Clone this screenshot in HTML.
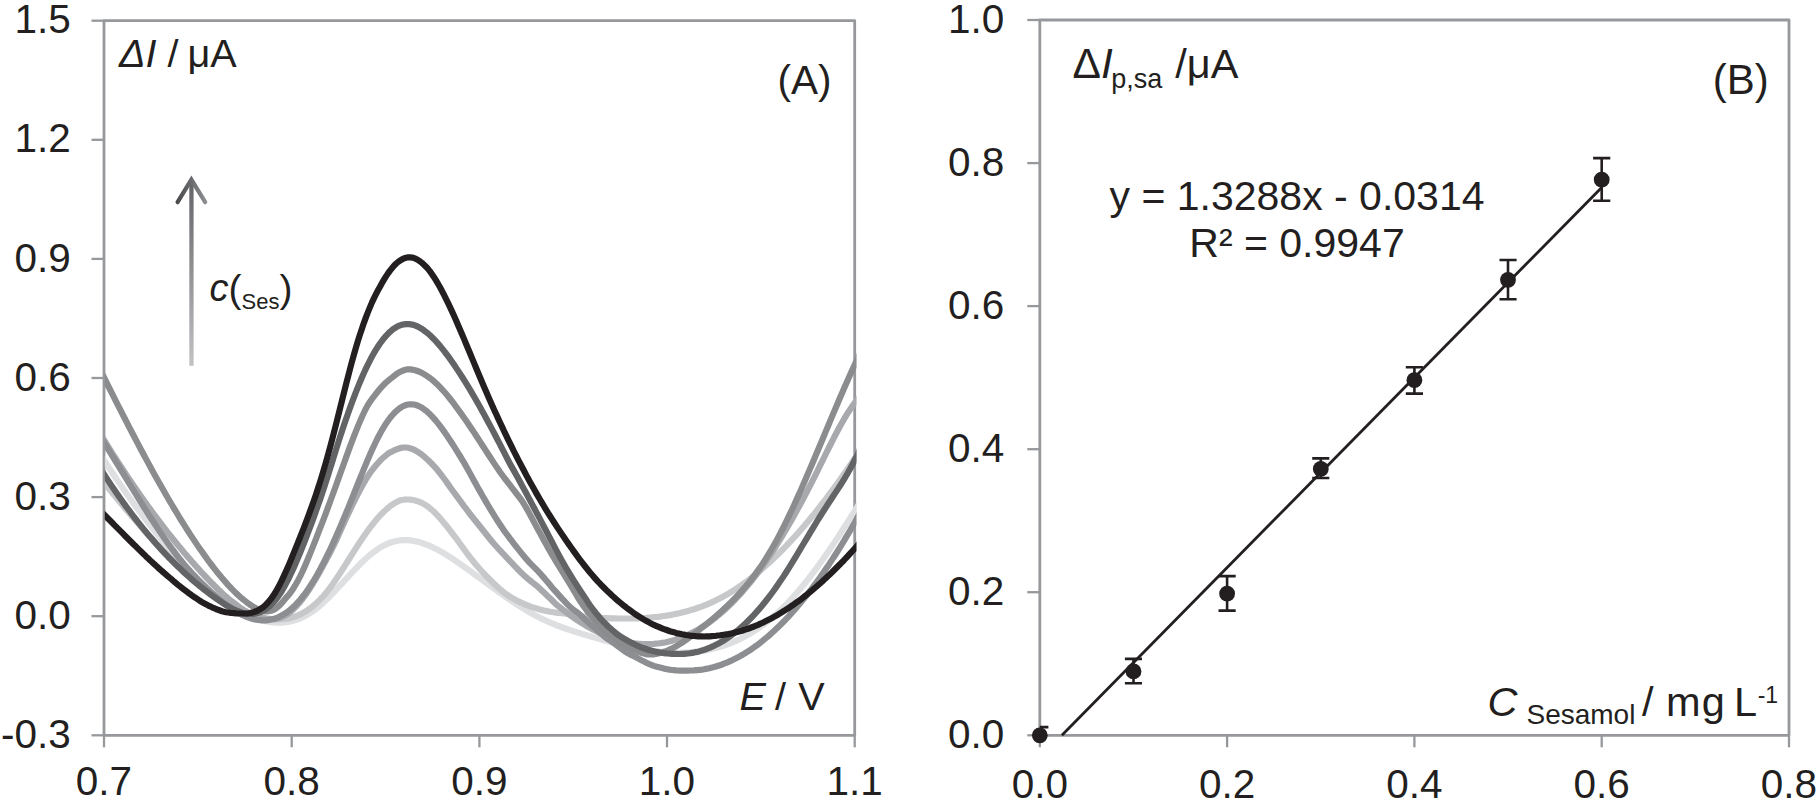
<!DOCTYPE html>
<html lang="en"><head><meta charset="utf-8"><title>Figure</title>
<style>html,body{margin:0;padding:0;background:#fff;}body{width:1820px;height:803px;overflow:hidden;}svg{display:block;}text{font-family:"Liberation Sans",Arial,sans-serif;fill:#231f20;}.i{font-style:italic;}</style></head><body>
<svg width="1820" height="803" viewBox="0 0 1820 803">
<rect width="1820" height="803" fill="#fff"/>
<defs><clipPath id="ca"><rect x="104.8" y="20.7" width="751.7" height="714.6"/></clipPath>
<clipPath id="cb"><rect x="1039.8" y="20.0" width="749.2" height="715.3"/></clipPath>
<linearGradient id="ag" x1="0" y1="0" x2="0" y2="1"><stop offset="0" stop-color="#626366"/><stop offset="1" stop-color="#c0c2c4"/></linearGradient><linearGradient id="ah" gradientUnits="userSpaceOnUse" x1="176" y1="0" x2="207" y2="0"><stop offset="0" stop-color="#48484a"/><stop offset="1" stop-color="#8e9093"/></linearGradient></defs>
<g id="chartA">
<g stroke="#96989b" stroke-width="2.8" fill="none">
<rect x="104.0" y="20.7" width="750.7" height="714.6" stroke-linejoin="round"/>
<line x1="91.5" y1="20.7" x2="104.0" y2="20.7" stroke-width="2.3"/>
<line x1="91.5" y1="139.8" x2="104.0" y2="139.8" stroke-width="2.3"/>
<line x1="91.5" y1="258.9" x2="104.0" y2="258.9" stroke-width="2.3"/>
<line x1="91.5" y1="378.0" x2="104.0" y2="378.0" stroke-width="2.3"/>
<line x1="91.5" y1="497.1" x2="104.0" y2="497.1" stroke-width="2.3"/>
<line x1="91.5" y1="616.2" x2="104.0" y2="616.2" stroke-width="2.3"/>
<line x1="91.5" y1="735.3" x2="104.0" y2="735.3" stroke-width="2.3"/>
<line x1="104.0" y1="735.3" x2="104.0" y2="747.3" stroke-width="2.3"/>
<line x1="291.7" y1="735.3" x2="291.7" y2="747.3" stroke-width="2.3"/>
<line x1="479.4" y1="735.3" x2="479.4" y2="747.3" stroke-width="2.3"/>
<line x1="667.0" y1="735.3" x2="667.0" y2="747.3" stroke-width="2.3"/>
<line x1="854.7" y1="735.3" x2="854.7" y2="747.3" stroke-width="2.3"/>
</g>
<g clip-path="url(#ca)" fill="none" stroke-linejoin="round" stroke-linecap="butt">
<path d="M98.0,451.0 L100.0,454.1 L102.0,457.2 L104.0,460.3 L106.0,463.3 L108.0,466.4 L110.0,469.4 L112.0,472.3 L114.0,475.3 L116.0,478.3 L118.0,481.2 L120.0,484.1 L122.0,487.0 L124.0,489.8 L126.0,492.7 L128.0,495.5 L130.0,498.3 L132.0,501.1 L134.0,503.8 L136.0,506.6 L138.0,509.3 L140.0,512.0 L142.0,514.7 L144.0,517.3 L146.0,519.9 L148.0,522.5 L150.0,525.1 L152.0,527.6 L154.0,530.1 L156.0,532.6 L158.0,535.1 L160.0,537.6 L162.0,540.0 L164.0,542.4 L166.0,544.7 L168.0,547.1 L170.0,549.4 L172.0,551.7 L174.0,553.9 L176.0,556.1 L178.0,558.3 L180.0,560.5 L182.0,562.7 L184.0,564.8 L186.0,566.9 L188.0,568.9 L190.0,570.9 L192.0,572.9 L194.0,574.9 L196.0,576.8 L198.0,578.7 L200.0,580.6 L202.0,582.4 L204.0,584.2 L206.0,586.0 L208.0,587.7 L210.0,589.4 L212.0,591.1 L214.0,592.8 L216.0,594.4 L218.0,595.9 L220.0,597.5 L222.0,599.0 L224.0,600.5 L226.0,601.9 L228.0,603.3 L230.0,604.7 L232.0,606.0 L234.0,607.3 L236.0,608.5 L238.0,609.7 L240.0,610.9 L242.0,612.0 L244.0,613.0 L246.0,614.0 L248.0,615.0 L250.0,615.9 L252.0,616.8 L254.0,617.6 L256.0,618.3 L258.0,619.0 L260.0,619.7 L262.0,620.3 L264.0,620.8 L266.0,621.3 L268.0,621.7 L270.0,622.0 L272.0,622.3 L274.0,622.5 L276.0,622.6 L278.0,622.7 L280.0,622.6 L282.0,622.6 L284.0,622.4 L286.0,622.2 L288.0,621.9 L290.0,621.5 L292.0,621.1 L294.0,620.5 L296.0,619.9 L298.0,619.2 L300.0,618.4 L302.0,617.5 L304.0,616.6 L306.0,615.5 L308.0,614.4 L310.0,613.2 L312.0,611.8 L314.0,610.4 L316.0,608.9 L318.0,607.3 L320.0,605.6 L322.0,603.9 L324.0,602.0 L326.0,600.1 L328.0,598.2 L330.0,596.2 L332.0,594.1 L334.0,592.0 L336.0,589.9 L338.0,587.7 L340.0,585.5 L342.0,583.4 L344.0,581.2 L346.0,579.0 L348.0,576.8 L350.0,574.6 L352.0,572.5 L354.0,570.3 L356.0,568.2 L358.0,566.2 L360.0,564.2 L362.0,562.2 L364.0,560.3 L366.0,558.5 L368.0,556.7 L370.0,555.0 L372.0,553.4 L374.0,551.8 L376.0,550.4 L378.0,549.0 L380.0,547.7 L382.0,546.5 L384.0,545.4 L386.0,544.4 L388.0,543.5 L390.0,542.8 L392.0,542.1 L394.0,541.5 L396.0,541.1 L398.0,540.7 L400.0,540.4 L402.0,540.2 L404.0,540.2 L406.0,540.2 L408.0,540.2 L410.0,540.4 L412.0,540.6 L414.0,541.0 L416.0,541.4 L418.0,541.8 L420.0,542.4 L422.0,543.0 L424.0,543.7 L426.0,544.4 L428.0,545.2 L430.0,546.0 L432.0,546.9 L434.0,547.9 L436.0,548.9 L438.0,550.0 L440.0,551.1 L442.0,552.2 L444.0,553.4 L446.0,554.6 L448.0,555.8 L450.0,557.1 L452.0,558.4 L454.0,559.7 L456.0,561.1 L458.0,562.5 L460.0,563.8 L462.0,565.3 L464.0,566.7 L466.0,568.1 L468.0,569.5 L470.0,571.0 L472.0,572.4 L474.0,573.9 L476.0,575.4 L478.0,576.8 L480.0,578.3 L482.0,579.8 L484.0,581.2 L486.0,582.7 L488.0,584.2 L490.0,585.6 L492.0,587.1 L494.0,588.5 L496.0,590.0 L498.0,591.4 L500.0,592.9 L502.0,594.3 L504.0,595.7 L506.0,597.1 L508.0,598.5 L510.0,599.8 L512.0,601.2 L514.0,602.5 L516.0,603.8 L518.0,605.1 L520.0,606.4 L522.0,607.7 L524.0,608.9 L526.0,610.1 L528.0,611.3 L530.0,612.5 L532.0,613.6 L534.0,614.7 L536.0,615.8 L538.0,616.8 L540.0,617.9 L542.0,618.9 L544.0,619.8 L546.0,620.7 L548.0,621.6 L550.0,622.5 L552.0,623.4 L554.0,624.2 L556.0,625.0 L558.0,625.8 L560.0,626.5 L562.0,627.3 L564.0,628.0 L566.0,628.7 L568.0,629.4 L570.0,630.1 L572.0,630.7 L574.0,631.4 L576.0,632.0 L578.0,632.6 L580.0,633.2 L582.0,633.9 L584.0,634.5 L586.0,635.1 L588.0,635.6 L590.0,636.2 L592.0,636.8 L594.0,637.4 L596.0,638.0 L598.0,638.5 L600.0,639.1 L602.0,639.7 L604.0,640.2 L606.0,640.8 L608.0,641.3 L610.0,641.9 L612.0,642.4 L614.0,642.9 L616.0,643.5 L618.0,644.0 L620.0,644.5 L622.0,644.9 L624.0,645.4 L626.0,645.9 L628.0,646.3 L630.0,646.8 L632.0,647.2 L634.0,647.6 L636.0,648.0 L638.0,648.4 L640.0,648.8 L642.0,649.2 L644.0,649.5 L646.0,649.9 L648.0,650.2 L650.0,650.5 L652.0,650.8 L654.0,651.0 L656.0,651.3 L658.0,651.5 L660.0,651.7 L662.0,651.9 L664.0,652.1 L666.0,652.2 L668.0,652.4 L670.0,652.5 L672.0,652.6 L674.0,652.6 L676.0,652.7 L678.0,652.7 L680.0,652.7 L682.0,652.6 L684.0,652.6 L686.0,652.5 L688.0,652.4 L690.0,652.3 L692.0,652.1 L694.0,651.9 L696.0,651.7 L698.0,651.5 L700.0,651.2 L702.0,650.9 L704.0,650.6 L706.0,650.2 L708.0,649.8 L710.0,649.4 L712.0,648.9 L714.0,648.5 L716.0,647.9 L718.0,647.4 L720.0,646.8 L722.0,646.2 L724.0,645.5 L726.0,644.8 L728.0,644.1 L730.0,643.3 L732.0,642.5 L734.0,641.7 L736.0,640.8 L738.0,639.9 L740.0,638.9 L742.0,637.9 L744.0,636.9 L746.0,635.8 L748.0,634.7 L750.0,633.5 L752.0,632.3 L754.0,631.1 L756.0,629.8 L758.0,628.4 L760.0,627.1 L762.0,625.6 L764.0,624.2 L766.0,622.6 L768.0,621.1 L770.0,619.4 L772.0,617.8 L774.0,616.1 L776.0,614.3 L778.0,612.5 L780.0,610.6 L782.0,608.7 L784.0,606.7 L786.0,604.7 L788.0,602.6 L790.0,600.5 L792.0,598.4 L794.0,596.1 L796.0,593.9 L798.0,591.6 L800.0,589.2 L802.0,586.8 L804.0,584.4 L806.0,581.9 L808.0,579.3 L810.0,576.8 L812.0,574.1 L814.0,571.5 L816.0,568.8 L818.0,566.1 L820.0,563.3 L822.0,560.5 L824.0,557.7 L826.0,554.8 L828.0,552.0 L830.0,549.0 L832.0,546.1 L834.0,543.1 L836.0,540.1 L838.0,537.1 L840.0,534.0 L842.0,530.9 L844.0,527.8 L846.0,524.7 L848.0,521.6 L850.0,518.4 L852.0,515.2 L854.0,512.1 L856.0,508.9 L858.0,505.6 L860.0,502.4" stroke="#dedfe0" stroke-width="6.2"/>
<path d="M98.0,475.0 L100.0,477.5 L102.0,480.1 L104.0,482.6 L106.0,485.1 L108.0,487.5 L110.0,490.0 L112.0,492.5 L114.0,494.9 L116.0,497.4 L118.0,499.8 L120.0,502.2 L122.0,504.6 L124.0,507.0 L126.0,509.4 L128.0,511.7 L130.0,514.1 L132.0,516.4 L134.0,518.7 L136.0,521.0 L138.0,523.3 L140.0,525.6 L142.0,527.8 L144.0,530.1 L146.0,532.3 L148.0,534.5 L150.0,536.7 L152.0,538.8 L154.0,541.0 L156.0,543.1 L158.0,545.2 L160.0,547.3 L162.0,549.3 L164.0,551.4 L166.0,553.4 L168.0,555.4 L170.0,557.4 L172.0,559.3 L174.0,561.2 L176.0,563.1 L178.0,565.0 L180.0,566.9 L182.0,568.7 L184.0,570.5 L186.0,572.3 L188.0,574.1 L190.0,575.8 L192.0,577.5 L194.0,579.2 L196.0,580.8 L198.0,582.4 L200.0,584.0 L202.0,585.6 L204.0,587.1 L206.0,588.6 L208.0,590.1 L210.0,591.6 L212.0,593.0 L214.0,594.4 L216.0,595.7 L218.0,597.1 L220.0,598.4 L222.0,599.6 L224.0,600.9 L226.0,602.1 L228.0,603.2 L230.0,604.3 L232.0,605.4 L234.0,606.5 L236.0,607.5 L238.0,608.5 L240.0,609.5 L242.0,610.4 L244.0,611.3 L246.0,612.1 L248.0,612.9 L250.0,613.7 L252.0,614.4 L254.0,615.1 L256.0,615.8 L258.0,616.4 L260.0,616.9 L262.0,617.4 L264.0,617.9 L266.0,618.3 L268.0,618.6 L270.0,618.9 L272.0,619.2 L274.0,619.3 L276.0,619.4 L278.0,619.4 L280.0,619.4 L282.0,619.2 L284.0,619.0 L286.0,618.8 L288.0,618.4 L290.0,618.0 L292.0,617.4 L294.0,616.8 L296.0,616.1 L298.0,615.3 L300.0,614.4 L302.0,613.4 L304.0,612.3 L306.0,611.1 L308.0,609.8 L310.0,608.4 L312.0,606.9 L314.0,605.2 L316.0,603.5 L318.0,601.6 L320.0,599.6 L322.0,597.5 L324.0,595.3 L326.0,592.9 L328.0,590.4 L330.0,587.8 L332.0,585.1 L334.0,582.2 L336.0,579.3 L338.0,576.3 L340.0,573.3 L342.0,570.2 L344.0,567.0 L346.0,563.8 L348.0,560.7 L350.0,557.5 L352.0,554.3 L354.0,551.2 L356.0,548.1 L358.0,545.0 L360.0,542.0 L362.0,539.0 L364.0,536.1 L366.0,533.2 L368.0,530.4 L370.0,527.7 L372.0,525.1 L374.0,522.6 L376.0,520.1 L378.0,517.8 L380.0,515.6 L382.0,513.5 L384.0,511.5 L386.0,509.7 L388.0,507.9 L390.0,506.3 L392.0,504.9 L394.0,503.5 L396.0,502.4 L398.0,501.3 L400.0,500.4 L402.0,500.0 L404.0,499.7 L406.0,499.5 L408.0,499.5 L410.0,499.6 L412.0,499.9 L414.0,500.2 L416.0,500.7 L418.0,501.4 L420.0,502.1 L422.0,503.0 L424.0,504.1 L426.0,505.3 L428.0,506.7 L430.0,508.3 L432.0,510.0 L434.0,511.8 L436.0,513.8 L438.0,515.9 L440.0,518.2 L442.0,520.5 L444.0,522.9 L446.0,525.3 L448.0,527.8 L450.0,530.4 L452.0,533.0 L454.0,535.6 L456.0,538.2 L458.0,540.9 L460.0,543.7 L462.0,546.5 L464.0,549.2 L466.0,552.0 L468.0,554.7 L470.0,557.3 L472.0,559.8 L474.0,562.3 L476.0,564.7 L478.0,567.0 L480.0,569.3 L482.0,571.5 L484.0,573.6 L486.0,575.8 L488.0,577.8 L490.0,579.8 L492.0,581.8 L494.0,583.7 L496.0,585.6 L498.0,587.4 L500.0,589.2 L502.0,590.9 L504.0,592.5 L506.0,594.0 L508.0,595.4 L510.0,596.7 L512.0,597.9 L514.0,599.1 L516.0,600.1 L518.0,601.2 L520.0,602.1 L522.0,603.0 L524.0,603.9 L526.0,604.8 L528.0,605.6 L530.0,606.4 L532.0,607.1 L534.0,607.7 L536.0,608.3 L538.0,608.9 L540.0,609.5 L542.0,610.0 L544.0,610.5 L546.0,610.9 L548.0,611.3 L550.0,611.7 L552.0,612.0 L554.0,612.3 L556.0,612.6 L558.0,612.8 L560.0,613.0 L562.0,613.2 L564.0,613.4 L566.0,613.6 L568.0,614.0 L570.0,614.4 L572.0,614.8 L574.0,615.1 L576.0,615.4 L578.0,615.7 L580.0,616.0 L582.0,616.3 L584.0,616.5 L586.0,616.7 L588.0,616.9 L590.0,617.1 L592.0,617.3 L594.0,617.5 L596.0,617.6 L598.0,617.7 L600.0,617.9 L602.0,618.0 L604.0,618.1 L606.0,618.2 L608.0,618.2 L610.0,618.3 L612.0,618.4 L614.0,618.4 L616.0,618.4 L618.0,618.5 L620.0,618.5 L622.0,618.5 L624.0,618.5 L626.0,618.5 L628.0,618.5 L630.0,618.5 L632.0,618.5 L634.0,618.4 L636.0,618.4 L638.0,618.3 L640.0,618.2 L642.0,618.1 L644.0,618.0 L646.0,617.9 L648.0,617.7 L650.0,617.6 L652.0,617.4 L654.0,617.2 L656.0,617.0 L658.0,616.8 L660.0,616.6 L662.0,616.3 L664.0,616.0 L666.0,615.7 L668.0,615.4 L670.0,615.1 L672.0,614.7 L674.0,614.3 L676.0,613.9 L678.0,613.5 L680.0,613.0 L682.0,612.5 L684.0,612.0 L686.0,611.5 L688.0,611.0 L690.0,610.4 L692.0,609.8 L694.0,609.2 L696.0,608.5 L698.0,607.8 L700.0,607.1 L702.0,606.4 L704.0,605.6 L706.0,604.8 L708.0,604.0 L710.0,603.1 L712.0,602.2 L714.0,601.3 L716.0,600.3 L718.0,599.3 L720.0,598.3 L722.0,597.2 L724.0,596.1 L726.0,595.0 L728.0,593.8 L730.0,592.6 L732.0,591.4 L734.0,590.2 L736.0,588.9 L738.0,587.5 L740.0,586.2 L742.0,584.8 L744.0,583.3 L746.0,581.9 L748.0,580.4 L750.0,578.9 L752.0,577.3 L754.0,575.7 L756.0,574.1 L758.0,572.4 L760.0,570.8 L762.0,569.0 L764.0,567.3 L766.0,565.5 L768.0,563.7 L770.0,561.9 L772.0,560.0 L774.0,558.1 L776.0,556.2 L778.0,554.2 L780.0,552.2 L782.0,550.2 L784.0,548.2 L786.0,546.1 L788.0,544.0 L790.0,541.9 L792.0,539.7 L794.0,537.5 L796.0,535.3 L798.0,533.1 L800.0,530.8 L802.0,528.5 L804.0,526.2 L806.0,523.8 L808.0,521.4 L810.0,519.0 L812.0,516.6 L814.0,514.1 L816.0,511.6 L818.0,509.1 L820.0,506.6 L822.0,504.0 L824.0,501.4 L826.0,498.8 L828.0,496.1 L830.0,493.5 L832.0,490.8 L834.0,488.0 L836.0,485.3 L838.0,482.5 L840.0,479.7 L842.0,476.9 L844.0,474.1 L846.0,471.2 L848.0,468.3 L850.0,465.4 L852.0,462.4 L854.0,459.5 L856.0,456.5 L858.0,453.5 L860.0,450.5" stroke="#c7c8ca" stroke-width="6.2"/>
<path d="M98.0,430.1 L100.0,433.4 L102.0,436.7 L104.0,439.9 L106.0,443.2 L108.0,446.4 L110.0,449.6 L112.0,452.8 L114.0,455.9 L116.0,459.0 L118.0,462.2 L120.0,465.2 L122.0,468.3 L124.0,471.3 L126.0,474.4 L128.0,477.4 L130.0,480.3 L132.0,483.3 L134.0,486.2 L136.0,489.1 L138.0,492.0 L140.0,494.9 L142.0,497.8 L144.0,500.6 L146.0,503.4 L148.0,506.2 L150.0,508.9 L152.0,511.7 L154.0,514.4 L156.0,517.1 L158.0,519.7 L160.0,522.4 L162.0,525.0 L164.0,527.6 L166.0,530.2 L168.0,532.8 L170.0,535.3 L172.0,537.8 L174.0,540.3 L176.0,542.8 L178.0,545.2 L180.0,547.6 L182.0,550.0 L184.0,552.4 L186.0,554.8 L188.0,557.1 L190.0,559.4 L192.0,561.7 L194.0,563.9 L196.0,566.2 L198.0,568.4 L200.0,570.6 L202.0,572.8 L204.0,574.9 L206.0,577.0 L208.0,579.1 L210.0,581.2 L212.0,583.3 L214.0,585.3 L216.0,587.2 L218.0,589.2 L220.0,591.1 L222.0,593.0 L224.0,594.8 L226.0,596.5 L228.0,598.3 L230.0,599.9 L232.0,601.6 L234.0,603.1 L236.0,604.6 L238.0,606.1 L240.0,607.5 L242.0,608.8 L244.0,610.1 L246.0,611.3 L248.0,612.4 L250.0,613.4 L252.0,614.4 L254.0,615.3 L256.0,616.1 L258.0,616.8 L260.0,617.4 L262.0,618.0 L264.0,618.4 L266.0,618.8 L268.0,619.0 L270.0,619.2 L272.0,619.2 L274.0,619.1 L276.0,618.8 L278.0,618.4 L280.0,617.8 L282.0,617.0 L284.0,616.1 L286.0,615.0 L288.0,613.7 L290.0,612.2 L292.0,610.5 L294.0,608.7 L296.0,606.6 L298.0,604.4 L300.0,602.1 L302.0,599.6 L304.0,596.9 L306.0,594.1 L308.0,591.2 L310.0,588.2 L312.0,585.0 L314.0,581.7 L316.0,578.4 L318.0,574.9 L320.0,571.4 L322.0,567.8 L324.0,564.1 L326.0,560.3 L328.0,556.5 L330.0,552.7 L332.0,548.8 L334.0,544.9 L336.0,540.6 L338.0,536.2 L340.0,531.7 L342.0,527.3 L344.0,522.9 L346.0,518.5 L348.0,514.2 L350.0,509.9 L352.0,505.7 L354.0,501.6 L356.0,497.6 L358.0,493.7 L360.0,489.9 L362.0,486.2 L364.0,482.6 L366.0,479.2 L368.0,476.0 L370.0,473.1 L372.0,470.3 L374.0,467.8 L376.0,465.3 L378.0,463.0 L380.0,460.8 L382.0,458.8 L384.0,457.0 L386.0,455.3 L388.0,453.7 L390.0,452.4 L392.0,451.4 L394.0,450.4 L396.0,449.6 L398.0,448.8 L400.0,448.1 L402.0,447.7 L404.0,447.5 L406.0,447.5 L408.0,447.8 L410.0,448.2 L412.0,448.9 L414.0,449.7 L416.0,450.8 L418.0,452.0 L420.0,453.3 L422.0,454.8 L424.0,456.4 L426.0,458.2 L428.0,460.0 L430.0,462.0 L432.0,464.0 L434.0,466.1 L436.0,468.3 L438.0,470.7 L440.0,473.2 L442.0,475.8 L444.0,478.5 L446.0,481.3 L448.0,484.1 L450.0,487.0 L452.0,489.8 L454.0,492.5 L456.0,495.2 L458.0,497.9 L460.0,500.6 L462.0,503.3 L464.0,506.1 L466.0,508.7 L468.0,511.4 L470.0,514.0 L472.0,516.5 L474.0,519.0 L476.0,521.5 L478.0,524.0 L480.0,526.5 L482.0,529.0 L484.0,531.5 L486.0,534.0 L488.0,536.5 L490.0,539.0 L492.0,541.4 L494.0,543.8 L496.0,546.0 L498.0,548.3 L500.0,550.4 L502.0,552.6 L504.0,554.7 L506.0,556.8 L508.0,559.0 L510.0,561.1 L512.0,563.2 L514.0,565.3 L516.0,567.4 L518.0,569.5 L520.0,571.5 L522.0,573.4 L524.0,575.4 L526.0,577.2 L528.0,578.9 L530.0,580.5 L532.0,582.1 L534.0,583.7 L536.0,585.2 L538.0,586.9 L540.0,588.8 L542.0,590.7 L544.0,592.6 L546.0,594.5 L548.0,596.4 L550.0,598.3 L552.0,600.3 L554.0,602.3 L556.0,604.1 L558.0,605.8 L560.0,607.4 L562.0,609.0 L564.0,610.6 L566.0,612.1 L568.0,613.6 L570.0,615.1 L572.0,616.5 L574.0,617.9 L576.0,619.3 L578.0,620.6 L580.0,621.9 L582.0,623.2 L584.0,624.4 L586.0,625.6 L588.0,626.8 L590.0,627.9 L592.0,629.0 L594.0,630.1 L596.0,631.1 L598.0,632.1 L600.0,633.0 L602.0,633.9 L604.0,634.8 L606.0,635.6 L608.0,636.4 L610.0,637.2 L612.0,637.9 L614.0,638.6 L616.0,639.3 L618.0,639.9 L620.0,640.4 L622.0,641.0 L624.0,641.5 L626.0,641.9 L628.0,642.3 L630.0,642.7 L632.0,643.0 L634.0,643.3 L636.0,643.5 L638.0,643.8 L640.0,643.9 L642.0,644.0 L644.0,644.1 L646.0,644.2 L648.0,644.2 L650.0,644.1 L652.0,644.0 L654.0,643.9 L656.0,643.7 L658.0,643.5 L660.0,643.2 L662.0,642.9 L664.0,642.6 L666.0,642.2 L668.0,641.7 L670.0,641.2 L672.0,640.7 L674.0,640.1 L676.0,639.5 L678.0,638.8 L680.0,638.1 L682.0,637.3 L684.0,636.5 L686.0,635.7 L688.0,634.8 L690.0,633.8 L692.0,632.8 L694.0,631.8 L696.0,630.7 L698.0,629.6 L700.0,628.4 L702.0,627.2 L704.0,625.9 L706.0,624.5 L708.0,623.2 L710.0,621.7 L712.0,620.3 L714.0,618.7 L716.0,617.2 L718.0,615.5 L720.0,613.9 L722.0,612.2 L724.0,610.4 L726.0,608.6 L728.0,606.7 L730.0,604.8 L732.0,602.8 L734.0,600.8 L736.0,598.7 L738.0,596.5 L740.0,594.4 L742.0,592.1 L744.0,589.8 L746.0,587.5 L748.0,585.1 L750.0,582.7 L752.0,580.2 L754.0,577.6 L756.0,575.0 L758.0,572.4 L760.0,569.7 L762.0,566.9 L764.0,564.1 L766.0,561.2 L768.0,558.3 L770.0,555.3 L772.0,552.3 L774.0,549.2 L776.0,546.1 L778.0,542.9 L780.0,539.7 L782.0,536.4 L784.0,533.0 L786.0,529.7 L788.0,526.2 L790.0,522.8 L792.0,519.2 L794.0,515.7 L796.0,512.1 L798.0,508.4 L800.0,504.7 L802.0,501.0 L804.0,497.2 L806.0,493.4 L808.0,489.6 L810.0,485.7 L812.0,481.8 L814.0,477.8 L816.0,473.8 L818.0,469.8 L820.0,465.7 L822.0,461.6 L824.0,457.6 L826.0,453.5 L828.0,449.5 L830.0,445.5 L832.0,441.5 L834.0,437.6 L836.0,433.8 L838.0,430.0 L840.0,426.3 L842.0,422.8 L844.0,419.3 L846.0,415.9 L848.0,412.7 L850.0,409.6 L852.0,406.6 L854.0,403.8 L856.0,401.2 L858.0,398.7 L860.0,396.5" stroke="#a7a9ac" stroke-width="6.2"/>
<path d="M98.0,432.9 L100.0,436.1 L102.0,439.2 L104.0,442.4 L106.0,445.6 L108.0,448.8 L110.0,452.0 L112.0,455.3 L114.0,458.5 L116.0,461.8 L118.0,465.0 L120.0,468.3 L122.0,471.6 L124.0,474.8 L126.0,478.1 L128.0,481.4 L130.0,484.7 L132.0,487.9 L134.0,491.2 L136.0,494.4 L138.0,497.7 L140.0,500.9 L142.0,504.1 L144.0,507.3 L146.0,510.4 L148.0,513.6 L150.0,516.7 L152.0,519.8 L154.0,522.8 L156.0,525.9 L158.0,528.9 L160.0,531.9 L162.0,534.8 L164.0,537.7 L166.0,540.5 L168.0,543.4 L170.0,546.1 L172.0,548.9 L174.0,551.5 L176.0,554.2 L178.0,556.7 L180.0,559.3 L182.0,561.7 L184.0,564.2 L186.0,566.5 L188.0,568.8 L190.0,571.1 L192.0,573.3 L194.0,575.5 L196.0,577.6 L198.0,579.7 L200.0,581.7 L202.0,583.7 L204.0,585.6 L206.0,587.5 L208.0,589.4 L210.0,591.2 L212.0,593.0 L214.0,594.7 L216.0,596.4 L218.0,598.1 L220.0,599.7 L222.0,601.3 L224.0,602.9 L226.0,604.4 L228.0,605.9 L230.0,607.3 L232.0,608.7 L234.0,610.1 L236.0,611.4 L238.0,612.6 L240.0,613.7 L242.0,614.8 L244.0,615.7 L246.0,616.6 L248.0,617.4 L250.0,618.1 L252.0,618.7 L254.0,619.3 L256.0,619.7 L258.0,620.0 L260.0,620.2 L262.0,620.4 L264.0,620.4 L266.0,620.3 L268.0,620.1 L270.0,619.7 L272.0,619.3 L274.0,618.8 L276.0,618.1 L278.0,617.3 L280.0,616.4 L282.0,615.3 L284.0,614.2 L286.0,612.9 L288.0,611.4 L290.0,609.9 L292.0,608.2 L294.0,606.3 L296.0,604.4 L298.0,602.2 L300.0,600.0 L302.0,597.5 L304.0,595.0 L306.0,592.3 L308.0,589.4 L310.0,586.4 L312.0,583.3 L314.0,580.1 L316.0,576.7 L318.0,573.2 L320.0,569.6 L322.0,565.8 L324.0,562.0 L326.0,558.0 L328.0,553.9 L330.0,549.8 L332.0,545.5 L334.0,541.1 L336.0,536.6 L338.0,532.1 L340.0,527.5 L342.0,522.8 L344.0,518.0 L346.0,513.2 L348.0,508.3 L350.0,503.4 L352.0,498.5 L354.0,493.5 L356.0,488.5 L358.0,483.5 L360.0,478.5 L362.0,473.6 L364.0,468.7 L366.0,463.9 L368.0,459.1 L370.0,454.5 L372.0,450.0 L374.0,445.7 L376.0,441.5 L378.0,437.5 L380.0,433.7 L382.0,430.1 L384.0,426.7 L386.0,423.6 L388.0,420.7 L390.0,418.0 L392.0,415.5 L394.0,413.3 L396.0,411.3 L398.0,409.6 L400.0,408.0 L402.0,406.8 L404.0,405.8 L406.0,405.0 L408.0,404.5 L410.0,404.3 L412.0,404.3 L414.0,404.5 L416.0,405.0 L418.0,405.7 L420.0,406.7 L422.0,407.8 L424.0,409.2 L426.0,410.7 L428.0,412.4 L430.0,414.3 L432.0,416.4 L434.0,418.6 L436.0,420.9 L438.0,423.4 L440.0,425.9 L442.0,428.6 L444.0,431.4 L446.0,434.3 L448.0,437.2 L450.0,440.2 L452.0,443.3 L454.0,446.4 L456.0,449.6 L458.0,452.8 L460.0,456.0 L462.0,459.3 L464.0,462.6 L466.0,466.1 L468.0,469.7 L470.0,473.4 L472.0,477.0 L474.0,480.7 L476.0,484.3 L478.0,487.9 L480.0,491.4 L482.0,495.0 L484.0,498.4 L486.0,501.9 L488.0,505.3 L490.0,508.6 L492.0,511.9 L494.0,515.1 L496.0,518.3 L498.0,521.5 L500.0,524.5 L502.0,527.5 L504.0,530.4 L506.0,533.2 L508.0,535.9 L510.0,538.6 L512.0,541.2 L514.0,543.8 L516.0,546.4 L518.0,548.9 L520.0,551.4 L522.0,553.9 L524.0,556.3 L526.0,558.7 L528.0,560.9 L530.0,563.1 L532.0,565.1 L534.0,567.1 L536.0,569.1 L538.0,571.2 L540.0,573.3 L542.0,575.6 L544.0,577.9 L546.0,580.2 L548.0,582.6 L550.0,585.0 L552.0,587.4 L554.0,589.7 L556.0,591.9 L558.0,594.1 L560.0,596.4 L562.0,598.6 L564.0,600.7 L566.0,602.8 L568.0,604.9 L570.0,606.9 L572.0,608.6 L574.0,610.2 L576.0,611.6 L578.0,613.1 L580.0,614.7 L582.0,616.5 L584.0,618.4 L586.0,620.2 L588.0,622.0 L590.0,623.9 L592.0,625.7 L594.0,627.5 L596.0,629.2 L598.0,631.0 L600.0,632.7 L602.0,634.5 L604.0,636.2 L606.0,637.7 L608.0,639.2 L610.0,640.5 L612.0,641.8 L614.0,643.2 L616.0,644.8 L618.0,646.3 L620.0,647.8 L622.0,649.2 L624.0,650.7 L626.0,652.1 L628.0,653.3 L630.0,654.4 L632.0,655.3 L634.0,656.3 L636.0,657.3 L638.0,658.4 L640.0,659.5 L642.0,660.6 L644.0,661.6 L646.0,662.6 L648.0,663.5 L650.0,664.4 L652.0,665.2 L654.0,665.9 L656.0,666.5 L658.0,667.1 L660.0,667.6 L662.0,668.1 L664.0,668.6 L666.0,669.0 L668.0,669.4 L670.0,669.7 L672.0,670.0 L674.0,670.2 L676.0,670.4 L678.0,670.5 L680.0,670.6 L682.0,670.7 L684.0,670.7 L686.0,670.7 L688.0,670.6 L690.0,670.5 L692.0,670.5 L694.0,670.4 L696.0,670.2 L698.0,670.1 L700.0,669.8 L702.0,669.6 L704.0,669.3 L706.0,668.9 L708.0,668.5 L710.0,668.1 L712.0,667.6 L714.0,667.0 L716.0,666.5 L718.0,665.8 L720.0,665.2 L722.0,664.5 L724.0,663.7 L726.0,662.9 L728.0,662.1 L730.0,661.2 L732.0,660.3 L734.0,659.3 L736.0,658.3 L738.0,657.3 L740.0,656.2 L742.0,655.0 L744.0,653.9 L746.0,652.6 L748.0,651.4 L750.0,650.1 L752.0,648.7 L754.0,647.3 L756.0,645.9 L758.0,644.4 L760.0,642.9 L762.0,641.3 L764.0,639.7 L766.0,638.0 L768.0,636.3 L770.0,634.6 L772.0,632.8 L774.0,631.0 L776.0,629.1 L778.0,627.2 L780.0,625.3 L782.0,623.3 L784.0,621.3 L786.0,619.2 L788.0,617.1 L790.0,614.9 L792.0,612.7 L794.0,610.5 L796.0,608.2 L798.0,605.8 L800.0,603.5 L802.0,601.1 L804.0,598.6 L806.0,596.1 L808.0,593.6 L810.0,591.0 L812.0,588.4 L814.0,585.7 L816.0,583.0 L818.0,580.2 L820.0,577.5 L822.0,574.6 L824.0,571.8 L826.0,568.8 L828.0,565.9 L830.0,562.9 L832.0,559.9 L834.0,556.8 L836.0,553.7 L838.0,550.5 L840.0,547.3 L842.0,544.1 L844.0,540.8 L846.0,537.4 L848.0,534.1 L850.0,530.7 L852.0,527.2 L854.0,523.7 L856.0,520.2 L858.0,516.6 L860.0,513.0" stroke="#8c8e91" stroke-width="6.2"/>
<path d="M98.0,365.5 L100.0,369.5 L102.0,373.5 L104.0,377.5 L106.0,381.5 L108.0,385.5 L110.0,389.5 L112.0,393.4 L114.0,397.4 L116.0,401.3 L118.0,405.3 L120.0,409.2 L122.0,413.1 L124.0,417.0 L126.0,420.9 L128.0,424.8 L130.0,428.7 L132.0,432.5 L134.0,436.3 L136.0,440.1 L138.0,443.9 L140.0,447.7 L142.0,451.5 L144.0,455.2 L146.0,458.9 L148.0,462.6 L150.0,466.3 L152.0,469.9 L154.0,473.6 L156.0,477.2 L158.0,480.7 L160.0,484.3 L162.0,487.8 L164.0,491.3 L166.0,494.8 L168.0,498.2 L170.0,501.7 L172.0,505.0 L174.0,508.4 L176.0,511.7 L178.0,515.0 L180.0,518.3 L182.0,521.5 L184.0,524.7 L186.0,527.9 L188.0,531.0 L190.0,534.1 L192.0,537.1 L194.0,540.1 L196.0,543.1 L198.0,546.1 L200.0,549.0 L202.0,551.8 L204.0,554.6 L206.0,557.4 L208.0,560.2 L210.0,562.9 L212.0,565.5 L214.0,568.1 L216.0,570.7 L218.0,573.2 L220.0,575.6 L222.0,578.0 L224.0,580.3 L226.0,582.6 L228.0,584.8 L230.0,587.0 L232.0,589.1 L234.0,591.1 L236.0,593.1 L238.0,594.9 L240.0,596.8 L242.0,598.5 L244.0,600.1 L246.0,601.7 L248.0,603.2 L250.0,604.6 L252.0,606.0 L254.0,607.2 L256.0,608.3 L258.0,609.3 L260.0,610.1 L262.0,610.7 L264.0,611.2 L266.0,611.4 L268.0,611.3 L270.0,611.0 L272.0,610.5 L274.0,609.6 L276.0,608.3 L278.0,606.8 L280.0,604.9 L282.0,602.7 L284.0,600.2 L286.0,597.9 L288.0,595.7 L290.0,593.3 L292.0,590.5 L294.0,587.3 L296.0,584.0 L298.0,580.4 L300.0,576.6 L302.0,572.5 L304.0,568.1 L306.0,563.5 L308.0,558.7 L310.0,553.8 L312.0,548.9 L314.0,543.9 L316.0,538.8 L318.0,533.6 L320.0,528.4 L322.0,523.3 L324.0,518.1 L326.0,512.8 L328.0,507.4 L330.0,502.0 L332.0,496.5 L334.0,491.0 L336.0,485.5 L338.0,479.9 L340.0,474.3 L342.0,468.7 L344.0,463.2 L346.0,457.6 L348.0,452.1 L350.0,446.7 L352.0,441.4 L354.0,436.2 L356.0,431.1 L358.0,426.2 L360.0,421.4 L362.0,416.8 L364.0,412.5 L366.0,408.4 L368.0,404.8 L370.0,401.7 L372.0,398.9 L374.0,396.3 L376.0,393.8 L378.0,391.3 L380.0,388.8 L382.0,386.6 L384.0,384.5 L386.0,382.5 L388.0,380.8 L390.0,379.2 L392.0,377.6 L394.0,376.0 L396.0,374.4 L398.0,373.0 L400.0,371.9 L402.0,371.0 L404.0,370.2 L406.0,369.6 L408.0,369.3 L410.0,369.3 L412.0,369.6 L414.0,370.0 L416.0,370.5 L418.0,371.2 L420.0,372.0 L422.0,373.0 L424.0,374.1 L426.0,375.3 L428.0,376.7 L430.0,378.1 L432.0,379.7 L434.0,381.4 L436.0,383.2 L438.0,385.1 L440.0,387.2 L442.0,389.3 L444.0,391.5 L446.0,393.8 L448.0,396.2 L450.0,398.7 L452.0,401.2 L454.0,403.9 L456.0,406.6 L458.0,409.3 L460.0,412.1 L462.0,414.9 L464.0,417.7 L466.0,420.6 L468.0,423.5 L470.0,426.5 L472.0,429.4 L474.0,432.4 L476.0,435.5 L478.0,438.5 L480.0,441.6 L482.0,444.7 L484.0,447.8 L486.0,450.9 L488.0,454.0 L490.0,457.0 L492.0,460.1 L494.0,463.1 L496.0,466.1 L498.0,469.0 L500.0,472.0 L502.0,474.8 L504.0,477.5 L506.0,480.0 L508.0,482.6 L510.0,485.2 L512.0,487.8 L514.0,490.4 L516.0,493.0 L518.0,495.5 L520.0,498.1 L522.0,500.9 L524.0,504.0 L526.0,507.4 L528.0,510.9 L530.0,514.6 L532.0,518.3 L534.0,522.1 L536.0,525.8 L538.0,529.4 L540.0,533.1 L542.0,536.8 L544.0,540.5 L546.0,544.1 L548.0,547.7 L550.0,551.2 L552.0,554.6 L554.0,558.0 L556.0,561.3 L558.0,564.6 L560.0,567.9 L562.0,571.1 L564.0,574.3 L566.0,577.6 L568.0,580.9 L570.0,584.1 L572.0,587.5 L574.0,590.9 L576.0,594.3 L578.0,597.7 L580.0,600.9 L582.0,603.8 L584.0,606.7 L586.0,609.4 L588.0,612.0 L590.0,614.5 L592.0,616.9 L594.0,619.2 L596.0,621.4 L598.0,623.6 L600.0,625.6 L602.0,627.6 L604.0,629.4 L606.0,631.2 L608.0,632.9 L610.0,634.5 L612.0,636.1 L614.0,637.6 L616.0,639.1 L618.0,640.5 L620.0,641.8 L622.0,643.1 L624.0,644.4 L626.0,645.6 L628.0,646.8 L630.0,647.9 L632.0,648.9 L634.0,649.9 L636.0,650.7 L638.0,651.5 L640.0,652.3 L642.0,653.0 L644.0,653.6 L646.0,654.1 L648.0,654.4 L650.0,654.5 L652.0,654.5 L654.0,654.3 L656.0,653.9 L658.0,653.5 L660.0,653.0 L662.0,652.4 L664.0,651.8 L666.0,651.1 L668.0,650.3 L670.0,649.4 L672.0,648.5 L674.0,647.4 L676.0,646.3 L678.0,645.1 L680.0,643.9 L682.0,642.6 L684.0,641.3 L686.0,639.9 L688.0,638.5 L690.0,637.0 L692.0,635.5 L694.0,634.0 L696.0,632.4 L698.0,630.8 L700.0,629.1 L702.0,627.6 L704.0,626.1 L706.0,624.5 L708.0,622.9 L710.0,621.2 L712.0,619.5 L714.0,617.8 L716.0,616.1 L718.0,614.4 L720.0,612.6 L722.0,610.8 L724.0,608.9 L726.0,607.1 L728.0,605.2 L730.0,603.2 L732.0,601.3 L734.0,599.2 L736.0,597.2 L738.0,595.0 L740.0,592.9 L742.0,590.6 L744.0,588.3 L746.0,586.0 L748.0,583.6 L750.0,581.1 L752.0,578.5 L754.0,575.9 L756.0,573.2 L758.0,570.4 L760.0,567.6 L762.0,564.6 L764.0,561.6 L766.0,558.5 L768.0,555.2 L770.0,551.9 L772.0,548.5 L774.0,545.0 L776.0,541.4 L778.0,537.7 L780.0,533.9 L782.0,530.0 L784.0,526.1 L786.0,522.0 L788.0,517.9 L790.0,513.7 L792.0,509.5 L794.0,505.2 L796.0,500.8 L798.0,496.4 L800.0,491.9 L802.0,487.4 L804.0,482.8 L806.0,478.2 L808.0,473.6 L810.0,468.9 L812.0,464.2 L814.0,459.5 L816.0,454.8 L818.0,450.0 L820.0,445.3 L822.0,440.5 L824.0,435.7 L826.0,430.9 L828.0,426.2 L830.0,421.4 L832.0,416.6 L834.0,411.9 L836.0,407.2 L838.0,402.5 L840.0,397.8 L842.0,393.2 L844.0,388.6 L846.0,384.0 L848.0,379.5 L850.0,375.0 L852.0,370.5 L854.0,366.2 L856.0,361.8 L858.0,357.6 L860.0,353.4" stroke="#8a8c8e" stroke-width="6.2"/>
<path d="M98.0,464.9 L100.0,468.1 L102.0,471.2 L104.0,474.3 L106.0,477.4 L108.0,480.4 L110.0,483.4 L112.0,486.4 L114.0,489.3 L116.0,492.3 L118.0,495.1 L120.0,498.0 L122.0,500.8 L124.0,503.6 L126.0,506.3 L128.0,509.0 L130.0,511.7 L132.0,514.3 L134.0,517.0 L136.0,519.5 L138.0,522.1 L140.0,524.6 L142.0,527.1 L144.0,529.6 L146.0,532.0 L148.0,534.4 L150.0,536.7 L152.0,539.1 L154.0,541.4 L156.0,543.7 L158.0,545.9 L160.0,548.1 L162.0,550.3 L164.0,552.5 L166.0,554.6 L168.0,556.7 L170.0,558.7 L172.0,560.8 L174.0,562.8 L176.0,564.8 L178.0,566.7 L180.0,568.6 L182.0,570.5 L184.0,572.4 L186.0,574.2 L188.0,576.0 L190.0,577.8 L192.0,579.6 L194.0,581.3 L196.0,583.0 L198.0,584.6 L200.0,586.3 L202.0,587.9 L204.0,589.5 L206.0,591.0 L208.0,592.5 L210.0,594.1 L212.0,595.5 L214.0,597.0 L216.0,598.4 L218.0,599.8 L220.0,601.2 L222.0,602.5 L224.0,603.8 L226.0,605.1 L228.0,606.3 L230.0,607.4 L232.0,608.5 L234.0,609.5 L236.0,610.5 L238.0,611.3 L240.0,612.0 L242.0,612.7 L244.0,613.2 L246.0,613.6 L248.0,613.9 L250.0,614.0 L252.0,614.0 L254.0,613.8 L256.0,613.5 L258.0,612.9 L260.0,612.3 L262.0,611.4 L264.0,610.3 L266.0,609.1 L268.0,607.6 L270.0,605.9 L272.0,603.9 L274.0,601.8 L276.0,599.4 L278.0,596.7 L280.0,593.8 L282.0,590.7 L284.0,587.3 L286.0,583.6 L288.0,579.8 L290.0,575.7 L292.0,571.5 L294.0,567.1 L296.0,562.6 L298.0,557.9 L300.0,553.0 L302.0,548.1 L304.0,543.0 L306.0,537.9 L308.0,532.7 L310.0,527.4 L312.0,522.1 L314.0,516.6 L316.0,511.0 L318.0,505.3 L320.0,499.6 L322.0,493.7 L324.0,487.7 L326.0,481.5 L328.0,475.3 L330.0,468.9 L332.0,462.5 L334.0,456.1 L336.0,449.7 L338.0,443.3 L340.0,437.1 L342.0,431.0 L344.0,425.0 L346.0,419.2 L348.0,413.5 L350.0,407.9 L352.0,402.4 L354.0,397.1 L356.0,391.9 L358.0,386.9 L360.0,382.0 L362.0,377.3 L364.0,372.7 L366.0,368.4 L368.0,364.3 L370.0,360.3 L372.0,356.5 L374.0,353.0 L376.0,349.6 L378.0,346.5 L380.0,343.5 L382.0,340.8 L384.0,338.2 L386.0,335.9 L388.0,333.8 L390.0,331.8 L392.0,330.1 L394.0,328.6 L396.0,327.3 L398.0,326.2 L400.0,325.4 L402.0,324.7 L404.0,324.3 L406.0,324.1 L408.0,324.1 L410.0,324.2 L412.0,324.6 L414.0,325.1 L416.0,325.8 L418.0,326.7 L420.0,327.8 L422.0,329.0 L424.0,330.4 L426.0,331.9 L428.0,333.5 L430.0,335.3 L432.0,337.2 L434.0,339.2 L436.0,341.3 L438.0,343.6 L440.0,345.9 L442.0,348.4 L444.0,350.9 L446.0,353.5 L448.0,356.2 L450.0,358.9 L452.0,361.7 L454.0,364.6 L456.0,367.6 L458.0,370.6 L460.0,373.6 L462.0,376.7 L464.0,379.9 L466.0,383.1 L468.0,386.4 L470.0,389.7 L472.0,393.1 L474.0,396.5 L476.0,400.0 L478.0,403.5 L480.0,407.1 L482.0,410.7 L484.0,414.3 L486.0,418.0 L488.0,421.7 L490.0,425.4 L492.0,429.1 L494.0,432.9 L496.0,436.7 L498.0,440.6 L500.0,444.4 L502.0,448.3 L504.0,452.2 L506.0,456.1 L508.0,460.0 L510.0,463.9 L512.0,467.4 L514.0,470.9 L516.0,474.5 L518.0,478.1 L520.0,481.8 L522.0,485.4 L524.0,489.1 L526.0,492.8 L528.0,496.6 L530.0,500.3 L532.0,504.1 L534.0,507.8 L536.0,511.6 L538.0,515.3 L540.0,519.1 L542.0,522.9 L544.0,526.7 L546.0,530.5 L548.0,534.4 L550.0,538.2 L552.0,542.0 L554.0,545.9 L556.0,549.6 L558.0,553.4 L560.0,557.1 L562.0,560.7 L564.0,564.2 L566.0,567.7 L568.0,571.1 L570.0,574.4 L572.0,577.7 L574.0,580.9 L576.0,584.0 L578.0,587.1 L580.0,590.2 L582.0,593.2 L584.0,596.3 L586.0,599.3 L588.0,602.4 L590.0,605.3 L592.0,608.0 L594.0,610.6 L596.0,613.2 L598.0,615.6 L600.0,618.0 L602.0,620.2 L604.0,622.3 L606.0,624.2 L608.0,626.2 L610.0,628.0 L612.0,629.8 L614.0,631.5 L616.0,633.2 L618.0,634.7 L620.0,636.1 L622.0,637.3 L624.0,638.6 L626.0,639.7 L628.0,640.9 L630.0,642.0 L632.0,643.1 L634.0,644.1 L636.0,645.1 L638.0,646.0 L640.0,646.8 L642.0,647.6 L644.0,648.3 L646.0,649.0 L648.0,649.7 L650.0,650.2 L652.0,650.8 L654.0,651.3 L656.0,651.7 L658.0,652.1 L660.0,652.5 L662.0,652.8 L664.0,653.1 L666.0,653.4 L668.0,653.5 L670.0,653.7 L672.0,653.8 L674.0,653.8 L676.0,653.9 L678.0,654.0 L680.0,654.0 L682.0,653.9 L684.0,653.9 L686.0,653.7 L688.0,653.5 L690.0,653.2 L692.0,652.9 L694.0,652.6 L696.0,652.1 L698.0,651.7 L700.0,651.1 L702.0,650.5 L704.0,649.9 L706.0,649.2 L708.0,648.4 L710.0,647.6 L712.0,646.7 L714.0,645.8 L716.0,644.8 L718.0,643.8 L720.0,642.7 L722.0,641.5 L724.0,640.3 L726.0,639.0 L728.0,637.7 L730.0,636.3 L732.0,634.8 L734.0,633.3 L736.0,631.7 L738.0,630.1 L740.0,628.4 L742.0,626.7 L744.0,624.8 L746.0,623.0 L748.0,621.0 L750.0,619.0 L752.0,617.0 L754.0,614.9 L756.0,612.7 L758.0,610.4 L760.0,608.1 L762.0,605.8 L764.0,603.3 L766.0,600.8 L768.0,598.3 L770.0,595.7 L772.0,593.0 L774.0,590.2 L776.0,587.4 L778.0,584.5 L780.0,581.6 L782.0,578.6 L784.0,575.6 L786.0,572.5 L788.0,569.3 L790.0,566.1 L792.0,562.9 L794.0,559.6 L796.0,556.3 L798.0,553.0 L800.0,549.7 L802.0,546.3 L804.0,543.0 L806.0,539.6 L808.0,536.3 L810.0,532.9 L812.0,529.6 L814.0,526.3 L816.0,523.0 L818.0,519.7 L820.0,516.5 L822.0,513.3 L824.0,510.2 L826.0,507.1 L828.0,504.0 L830.0,501.0 L832.0,498.0 L834.0,494.9 L836.0,491.9 L838.0,488.9 L840.0,485.8 L842.0,482.6 L844.0,479.4 L846.0,476.0 L848.0,472.6 L850.0,469.0 L852.0,465.3 L854.0,461.5 L856.0,457.5 L858.0,453.3 L860.0,448.9" stroke="#636466" stroke-width="6.2"/>
<path d="M98.0,508.5 L100.0,510.5 L102.0,512.5 L104.0,514.5 L106.0,516.5 L108.0,518.5 L110.0,520.5 L112.0,522.5 L114.0,524.6 L116.0,526.6 L118.0,528.6 L120.0,530.6 L122.0,532.6 L124.0,534.7 L126.0,536.7 L128.0,538.7 L130.0,540.7 L132.0,542.7 L134.0,544.7 L136.0,546.6 L138.0,548.6 L140.0,550.6 L142.0,552.5 L144.0,554.4 L146.0,556.4 L148.0,558.3 L150.0,560.2 L152.0,562.0 L154.0,563.9 L156.0,565.7 L158.0,567.6 L160.0,569.4 L162.0,571.1 L164.0,572.9 L166.0,574.6 L168.0,576.3 L170.0,578.0 L172.0,579.7 L174.0,581.5 L176.0,583.1 L178.0,584.8 L180.0,586.4 L182.0,588.0 L184.0,589.6 L186.0,591.1 L188.0,592.6 L190.0,594.0 L192.0,595.5 L194.0,596.9 L196.0,598.2 L198.0,599.5 L200.0,600.8 L202.0,602.1 L204.0,603.2 L206.0,604.3 L208.0,605.4 L210.0,606.3 L212.0,607.3 L214.0,608.1 L216.0,609.0 L218.0,609.8 L220.0,610.5 L222.0,611.2 L224.0,611.7 L226.0,612.2 L228.0,612.5 L230.0,612.8 L232.0,613.0 L234.0,613.2 L236.0,613.4 L238.0,613.5 L240.0,613.5 L242.0,613.5 L244.0,613.5 L246.0,613.5 L248.0,613.3 L250.0,613.0 L252.0,612.6 L254.0,612.0 L256.0,611.3 L258.0,610.4 L260.0,609.3 L262.0,607.9 L264.0,606.4 L266.0,604.5 L268.0,602.5 L270.0,600.1 L272.0,597.5 L274.0,594.5 L276.0,591.3 L278.0,587.7 L280.0,584.0 L282.0,579.9 L284.0,575.7 L286.0,571.3 L288.0,566.8 L290.0,562.1 L292.0,557.3 L294.0,552.4 L296.0,547.4 L298.0,542.5 L300.0,537.5 L302.0,532.4 L304.0,527.3 L306.0,522.1 L308.0,516.8 L310.0,511.4 L312.0,505.9 L314.0,500.2 L316.0,494.4 L318.0,488.3 L320.0,482.1 L322.0,475.6 L324.0,468.9 L326.0,462.0 L328.0,454.9 L330.0,447.5 L332.0,440.0 L334.0,432.3 L336.0,424.5 L338.0,416.5 L340.0,408.6 L342.0,400.5 L344.0,392.5 L346.0,384.5 L348.0,376.7 L350.0,369.0 L352.0,361.5 L354.0,354.3 L356.0,347.3 L358.0,340.7 L360.0,334.4 L362.0,328.4 L364.0,322.6 L366.0,317.2 L368.0,312.0 L370.0,307.1 L372.0,302.4 L374.0,298.1 L376.0,294.1 L378.0,290.3 L380.0,286.7 L382.0,283.1 L384.0,279.6 L386.0,276.4 L388.0,273.4 L390.0,270.6 L392.0,268.1 L394.0,265.8 L396.0,263.8 L398.0,262.0 L400.0,260.6 L402.0,259.3 L404.0,258.4 L406.0,257.7 L408.0,257.4 L410.0,257.3 L412.0,257.6 L414.0,258.1 L416.0,258.9 L418.0,260.0 L420.0,261.3 L422.0,262.9 L424.0,264.7 L426.0,266.7 L428.0,268.9 L430.0,271.4 L432.0,274.2 L434.0,277.2 L436.0,280.4 L438.0,283.8 L440.0,287.3 L442.0,291.0 L444.0,294.9 L446.0,298.8 L448.0,302.9 L450.0,307.1 L452.0,311.4 L454.0,315.8 L456.0,320.3 L458.0,324.9 L460.0,329.5 L462.0,334.2 L464.0,338.9 L466.0,343.7 L468.0,348.5 L470.0,353.3 L472.0,358.1 L474.0,362.9 L476.0,367.7 L478.0,372.5 L480.0,377.3 L482.0,382.0 L484.0,386.7 L486.0,391.3 L488.0,395.9 L490.0,400.4 L492.0,404.9 L494.0,409.4 L496.0,413.8 L498.0,418.1 L500.0,422.5 L502.0,426.7 L504.0,431.0 L506.0,435.2 L508.0,439.3 L510.0,443.4 L512.0,447.4 L514.0,451.5 L516.0,455.4 L518.0,459.3 L520.0,463.2 L522.0,467.0 L524.0,470.8 L526.0,474.6 L528.0,478.3 L530.0,481.9 L532.0,485.5 L534.0,489.1 L536.0,492.6 L538.0,496.1 L540.0,499.5 L542.0,502.9 L544.0,506.3 L546.0,509.6 L548.0,512.8 L550.0,516.0 L552.0,519.2 L554.0,522.3 L556.0,525.4 L558.0,528.4 L560.0,531.4 L562.0,534.4 L564.0,537.3 L566.0,540.3 L568.0,543.1 L570.0,546.0 L572.0,548.8 L574.0,551.6 L576.0,554.4 L578.0,557.1 L580.0,559.8 L582.0,562.4 L584.0,565.0 L586.0,567.5 L588.0,570.0 L590.0,572.5 L592.0,574.8 L594.0,577.1 L596.0,579.4 L598.0,581.6 L600.0,583.7 L602.0,585.8 L604.0,587.8 L606.0,589.8 L608.0,591.7 L610.0,593.6 L612.0,595.5 L614.0,597.3 L616.0,599.1 L618.0,600.8 L620.0,602.5 L622.0,604.2 L624.0,605.8 L626.0,607.3 L628.0,608.9 L630.0,610.3 L632.0,611.8 L634.0,613.2 L636.0,614.6 L638.0,615.9 L640.0,617.2 L642.0,618.4 L644.0,619.6 L646.0,620.7 L648.0,621.8 L650.0,622.9 L652.0,623.9 L654.0,624.9 L656.0,625.8 L658.0,626.7 L660.0,627.5 L662.0,628.3 L664.0,629.1 L666.0,629.8 L668.0,630.5 L670.0,631.2 L672.0,631.8 L674.0,632.3 L676.0,632.9 L678.0,633.4 L680.0,633.8 L682.0,634.3 L684.0,634.6 L686.0,635.0 L688.0,635.3 L690.0,635.6 L692.0,635.8 L694.0,636.0 L696.0,636.2 L698.0,636.3 L700.0,636.4 L702.0,636.4 L704.0,636.5 L706.0,636.4 L708.0,636.4 L710.0,636.3 L712.0,636.1 L714.0,636.0 L716.0,635.8 L718.0,635.5 L720.0,635.3 L722.0,635.0 L724.0,634.7 L726.0,634.4 L728.0,634.1 L730.0,633.7 L732.0,633.3 L734.0,632.8 L736.0,632.3 L738.0,631.8 L740.0,631.2 L742.0,630.7 L744.0,630.0 L746.0,629.4 L748.0,628.7 L750.0,628.0 L752.0,627.2 L754.0,626.5 L756.0,625.6 L758.0,624.8 L760.0,623.9 L762.0,623.0 L764.0,622.1 L766.0,621.1 L768.0,620.1 L770.0,619.1 L772.0,618.0 L774.0,616.9 L776.0,615.8 L778.0,614.6 L780.0,613.4 L782.0,612.2 L784.0,610.9 L786.0,609.7 L788.0,608.4 L790.0,607.0 L792.0,605.6 L794.0,604.3 L796.0,602.8 L798.0,601.4 L800.0,599.9 L802.0,598.4 L804.0,596.8 L806.0,595.3 L808.0,593.7 L810.0,592.0 L812.0,590.4 L814.0,588.7 L816.0,587.0 L818.0,585.2 L820.0,583.5 L822.0,581.7 L824.0,579.8 L826.0,578.0 L828.0,576.1 L830.0,574.2 L832.0,572.3 L834.0,570.3 L836.0,568.3 L838.0,566.3 L840.0,564.3 L842.0,562.2 L844.0,560.2 L846.0,558.0 L848.0,555.9 L850.0,553.7 L852.0,551.5 L854.0,549.3 L856.0,547.1 L858.0,544.8 L860.0,542.5" stroke="#231f20" stroke-width="6.2"/>
</g>
<g font-size="40.5">
<text x="70.7" y="33.3" text-anchor="end">1.5</text>
<text x="70.7" y="152.4" text-anchor="end">1.2</text>
<text x="70.7" y="271.5" text-anchor="end">0.9</text>
<text x="70.7" y="390.6" text-anchor="end">0.6</text>
<text x="70.7" y="509.7" text-anchor="end">0.3</text>
<text x="70.7" y="628.8" text-anchor="end">0.0</text>
<text x="70.7" y="747.9" text-anchor="end">-0.3</text>
<text x="104.0" y="795.1" text-anchor="middle">0.7</text>
<text x="291.7" y="795.1" text-anchor="middle">0.8</text>
<text x="479.4" y="795.1" text-anchor="middle">0.9</text>
<text x="667.0" y="795.1" text-anchor="middle">1.0</text>
<text x="854.7" y="795.1" text-anchor="middle">1.1</text>
<text x="119" y="67" font-size="39.6"><tspan class="i">ΔI</tspan> / <tspan dx="-2.1">μA</tspan></text>
<text x="777.5" y="94.3">(A)</text>
<text x="739.5" y="709.8" font-size="39.6"><tspan class="i">E</tspan><tspan dx="-2"> /</tspan><tspan dx="1.3"> V</tspan></text>
<text x="209.5" y="301"><tspan class="i" font-size="38">c</tspan><tspan font-size="39" dy="1.4">(</tspan><tspan font-size="22" dy="6.6">Ses</tspan><tspan font-size="39" dy="-6.6">)</tspan></text>
</g>
<rect x="189.3" y="180" width="4.3" height="185.8" fill="url(#ag)"/>
<path d="M177.6,202.2 L191.4,179.6 L205.2,202.2" fill="none" stroke="url(#ah)" stroke-width="4.2" stroke-linejoin="miter" stroke-linecap="round"/>
</g>
<g id="chartB">
<g stroke="#96989b" stroke-width="2.8" fill="none">
<rect x="1039.8" y="20.0" width="749.2" height="715.3" stroke-linejoin="round"/>
<line x1="1027.3" y1="20.0" x2="1039.8" y2="20.0" stroke-width="2.3"/>
<line x1="1027.3" y1="163.1" x2="1039.8" y2="163.1" stroke-width="2.3"/>
<line x1="1027.3" y1="306.1" x2="1039.8" y2="306.1" stroke-width="2.3"/>
<line x1="1027.3" y1="449.2" x2="1039.8" y2="449.2" stroke-width="2.3"/>
<line x1="1027.3" y1="592.2" x2="1039.8" y2="592.2" stroke-width="2.3"/>
<line x1="1027.3" y1="735.3" x2="1039.8" y2="735.3" stroke-width="2.3"/>
<line x1="1039.8" y1="735.3" x2="1039.8" y2="747.3" stroke-width="2.3"/>
<line x1="1227.1" y1="735.3" x2="1227.1" y2="747.3" stroke-width="2.3"/>
<line x1="1414.4" y1="735.3" x2="1414.4" y2="747.3" stroke-width="2.3"/>
<line x1="1601.7" y1="735.3" x2="1601.7" y2="747.3" stroke-width="2.3"/>
<line x1="1789.0" y1="735.3" x2="1789.0" y2="747.3" stroke-width="2.3"/>
</g>
<g font-size="40.5">
<text x="1004.3" y="32.9" text-anchor="end">1.0</text>
<text x="1004.3" y="176.0" text-anchor="end">0.8</text>
<text x="1004.3" y="319.0" text-anchor="end">0.6</text>
<text x="1004.3" y="462.1" text-anchor="end">0.4</text>
<text x="1004.3" y="605.1" text-anchor="end">0.2</text>
<text x="1004.3" y="748.2" text-anchor="end">0.0</text>
<text x="1039.8" y="798" text-anchor="middle">0.0</text>
<text x="1227.1" y="798" text-anchor="middle">0.2</text>
<text x="1414.4" y="798" text-anchor="middle">0.4</text>
<text x="1601.7" y="798" text-anchor="middle">0.6</text>
<text x="1789.0" y="798" text-anchor="middle">0.8</text>
<text x="1072.5" y="78.4" font-size="42.5">Δ<tspan class="i">I</tspan><tspan font-size="27" dy="9.5" dx="-1.5">p,sa</tspan><tspan dy="-9.5" dx="1.5" font-size="41.5"> /μA</tspan></text>
<text x="1712.8" y="94.3" font-size="42">(B)</text>
<text x="1487.5" y="716" font-size="41.5"><tspan class="i">C</tspan><tspan font-size="28" dy="7.6" dx="1.2"> Sesamol</tspan><tspan dy="-7.6" dx="-5"> /</tspan><tspan dx="-0.2" letter-spacing="1.2"> mg</tspan><tspan dx="-3.5"> L</tspan><tspan font-size="23" dy="-12.8" dx="0.5">-1</tspan></text>
<text x="1297" y="210" text-anchor="middle" font-size="41">y = 1.3288x - 0.0314</text>
<text x="1297" y="257.3" text-anchor="middle" font-size="41">R² = 0.9947</text>
</g>
<line x1="1061.9" y1="735.3" x2="1601.7" y2="187.5" stroke="#231f20" stroke-width="2.8"/>
<g clip-path="url(#cb)">
<g stroke="#231f20" stroke-width="2.6" fill="none">
<path d="M1039.8,727.1 V743.5 M1031.2,727.1 H1048.4 M1031.2,743.5 H1048.4"/>
<path d="M1133.5,658.9 V683.2 M1124.9,658.9 H1142.0 M1124.9,683.2 H1142.0"/>
<path d="M1227.1,576.1 V610.6 M1218.5,576.1 H1235.7 M1218.5,610.6 H1235.7"/>
<path d="M1320.8,458.4 V478.0 M1312.2,458.4 H1329.3 M1312.2,478.0 H1329.3"/>
<path d="M1414.4,367.3 V393.6 M1405.8,367.3 H1423.0 M1405.8,393.6 H1423.0"/>
<path d="M1508.0,260.0 V299.2 M1499.5,260.0 H1516.6 M1499.5,299.2 H1516.6"/>
<path d="M1601.7,158.1 V200.8 M1593.1,158.1 H1610.3 M1593.1,200.8 H1610.3"/>
</g></g>
<g fill="#231f20">
<circle cx="1039.8" cy="735.3" r="7.9"/>
<circle cx="1133.5" cy="671.4" r="7.9"/>
<circle cx="1227.1" cy="593.7" r="7.9"/>
<circle cx="1320.8" cy="468.9" r="7.9"/>
<circle cx="1414.4" cy="380.2" r="7.9"/>
<circle cx="1508.0" cy="279.8" r="7.9"/>
<circle cx="1601.7" cy="179.7" r="7.9"/>
</g>
</g>
</svg></body></html>
